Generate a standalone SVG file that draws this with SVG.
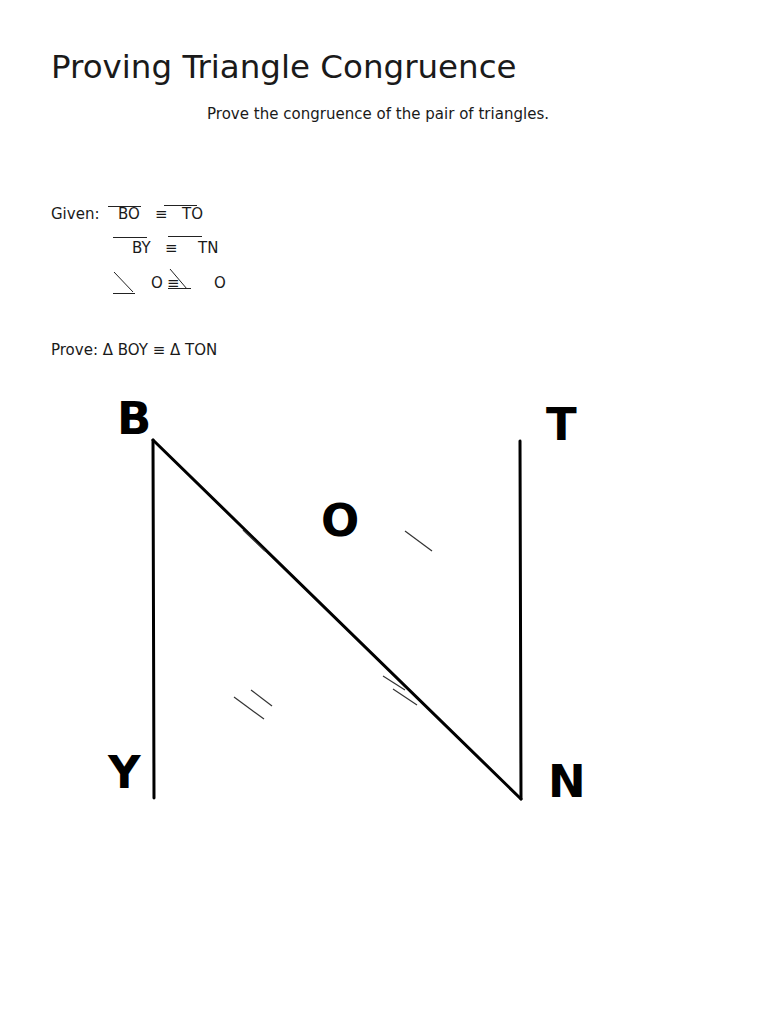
<svg xmlns="http://www.w3.org/2000/svg" width="768" height="1024" viewBox="0 0 768 1024">
<style>
.t{font-family:"DejaVu Sans",Verdana,sans-serif;fill:#1a1a1a}
.s{font-size:15px}
.big{font-family:"DejaVu Sans","Liberation Sans",sans-serif;font-weight:bold;font-size:45px;fill:#000}
.ov{stroke:#222;stroke-width:1;fill:none}
.edge{stroke:#000;stroke-width:3;fill:none;stroke-linecap:round}
.tick{stroke:#333;stroke-width:1.2;fill:none}
</style>
<rect width="768" height="1024" fill="#fff"/>
<text class="t" x="51" y="78" font-size="32.5">Proving Triangle Congruence</text>
<text class="t s" x="207" y="119" textLength="342">Prove the congruence of the pair of triangles.</text>
<g id="given">
<text class="t s" x="51" y="219">Given:</text>
<text class="t s" x="118" y="219">BO</text>
<text class="t s" x="155" y="219">≡</text>
<text class="t s" x="182" y="219">TO</text>
<line class="ov" x1="108" y1="206.5" x2="141" y2="206.5"/>
<line class="ov" x1="164" y1="205.5" x2="197" y2="205.5"/>
<text class="t s" x="132" y="253">BY</text>
<text class="t s" x="165" y="253">≡</text>
<text class="t s" x="198" y="253">TN</text>
<line class="ov" x1="113" y1="237.5" x2="147" y2="237.5"/>
<line class="ov" x1="168" y1="236.5" x2="202" y2="236.5"/>
<line class="ov" x1="114" y1="272" x2="133" y2="292"/>
<line class="ov" x1="113" y1="293.5" x2="135" y2="293.5"/>
<text class="t s" x="151" y="288">O</text>
<text class="t s" x="167" y="288">≡</text>
<line class="ov" x1="170" y1="269" x2="187" y2="289"/>
<line class="ov" x1="168" y1="288.5" x2="191" y2="288.5"/>
<text class="t s" x="214" y="288">O</text>
</g>
<text class="t s" x="51" y="355">Prove: Δ BOY ≡ Δ TON</text>
<g id="connectors">
<line class="edge" x1="153" y1="440" x2="154" y2="798"/>
<line class="edge" x1="153" y1="440" x2="521" y2="799"/>
<line class="edge" x1="520" y1="441" x2="521" y2="799"/>
<line class="tick" x1="243" y1="530" x2="265" y2="551"/>
<line class="tick" x1="405" y1="531" x2="432" y2="551"/>
<line class="tick" x1="234" y1="697" x2="264" y2="719"/>
<line class="tick" x1="251" y1="690" x2="272" y2="706"/>
<line class="tick" x1="383" y1="676" x2="405" y2="690"/>
<line class="tick" x1="393" y1="689" x2="417" y2="705"/>
</g>
<g id="B"><text class="big" x="117" y="434">B</text></g>
<g id="T"><text class="big" x="546" y="440">T</text></g>
<g id="O"><text class="big" x="321" y="536">O</text></g>
<g id="Y"><text class="big" x="108" y="788">Y</text></g>
<g id="N"><text class="big" x="548" y="797">N</text></g>
</svg>
